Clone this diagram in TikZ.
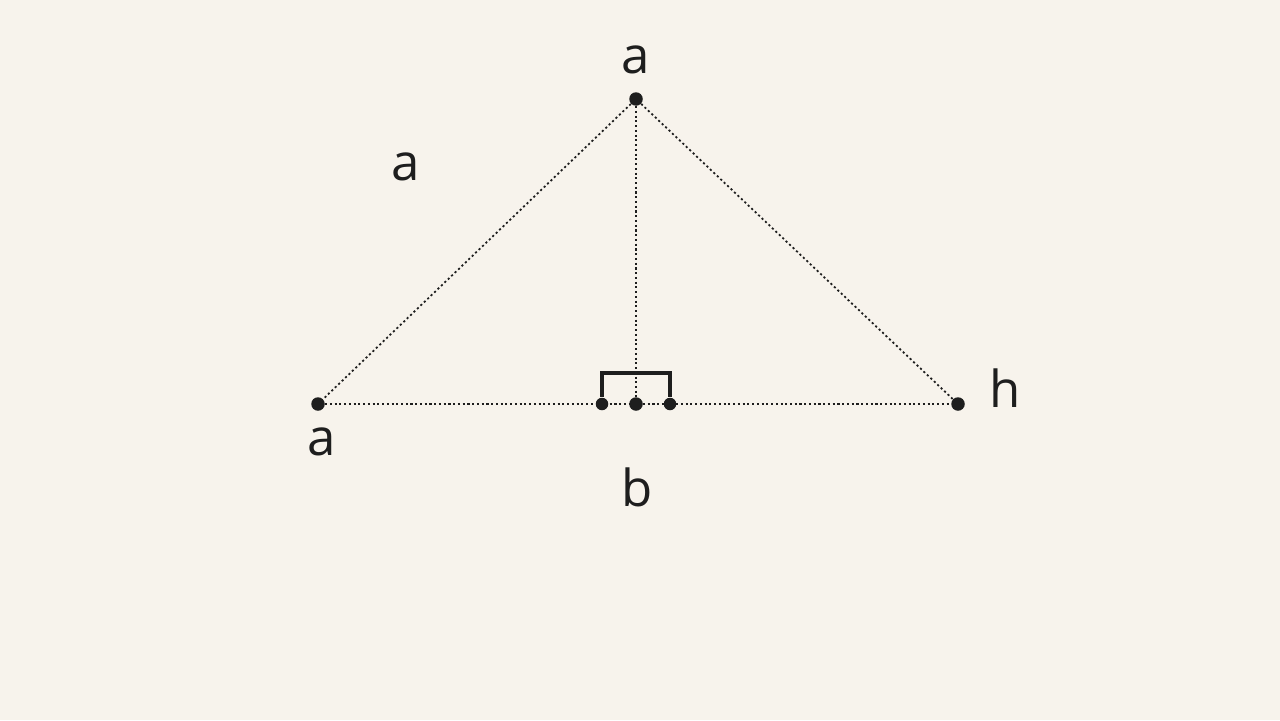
\documentclass[tikz,border=0pt]{standalone}
\usepackage{fontspec}
\setmainfont{Open Sans}
\usetikzlibrary{positioning,calc}
\definecolor{paper}{HTML}{F7F3EC}
\definecolor{ink}{HTML}{1E1E1E}
\tikzset{ % vertex dots, dotted sides and labels
    vertex/.style={circle, fill=ink, inner sep=0pt, minimum size=0.27cm},
    side/.style={draw=ink, line width=1pt, dash pattern=on 1.2pt off 1.5pt},
    bracket/.style={draw=ink, line width=1.9pt},
    lbl/.style={text=ink, inner sep=0pt, font=\fontsize{29}{34}\selectfont}
}
\begin{document}
\begin{tikzpicture}[x=0.02cm, y=-0.02cm]
	\fill[paper] (0,0) rectangle (1280,720);
	\useasboundingbox (0,0) rectangle (1280,720);
	%Nodes
	\node[vertex] (top)   at (636,99)  {};
	\node[vertex] (left)  at (318,404) {};
	\node[vertex] (right) at (958,404) {};
	\node[vertex] (foot)  at (636,404) {};
	\node[vertex, minimum size=0.25cm] (bl) at (602,404) {};
	\node[vertex, minimum size=0.25cm] (br) at (670,404) {};
	\coordinate (bl top) at (602,373);
	\coordinate (br top) at (670,373);
	%Lines
	\draw[bracket] (bl) -- (bl top) -- (br top) -- (br);
	\draw[side] (top) -- (left);
	\draw[side] (top) -- (right);
	\draw[side] (left) -- (right);
	\draw[side] (top) -- (foot);
	%Labels
	\node[lbl] (la top)   at (636,60)  {a};
	\node[lbl] (la side)  at (406,167) {a};
	\node[lbl] (la left)  at (322,442) {a};
	\node[lbl] (la right) at (1005,388) {h};
	\node[lbl] (la base)  at (637,487) {b};
\end{tikzpicture}
\end{document}
